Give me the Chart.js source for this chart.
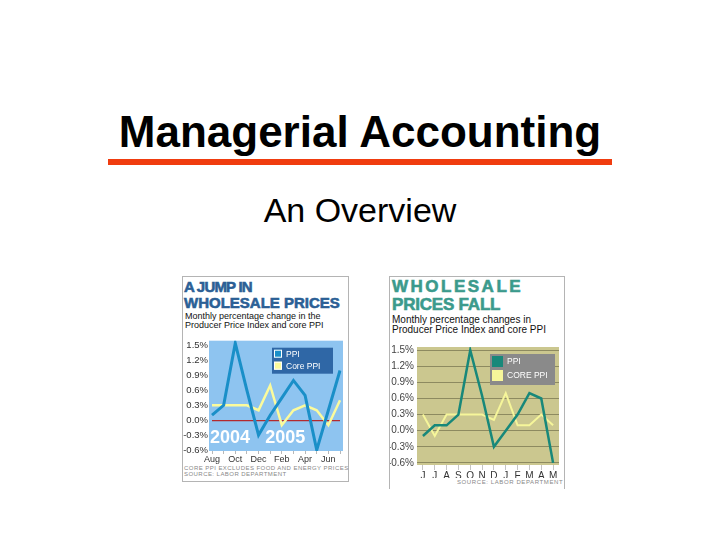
<!DOCTYPE html>
<html>
<head>
<meta charset="utf-8">
<script src="https://cdn.jsdelivr.net/npm/chart.js@4.4.0/dist/chart.umd.min.js"></script>
<style>
body { margin:0; width:720px; height:540px; position:relative; overflow:hidden; background:#fff; font-family:'Liberation Sans', Arial, sans-serif; }
.abs { position:absolute; white-space:nowrap; }
#title { left:0; width:720px; top:106px; text-align:center; font-size:44px; line-height:52px; font-weight:bold; color:#000; }
#rule { left:108px; top:159px; width:504px; height:6px; background:#f03c0f; }
#sub { left:0; width:720px; top:191px; text-align:center; font-size:34px; line-height:38px; color:#000; }
#card1 { left:182px; top:276px; width:165px; height:204px; border:1px solid #b4b4b4; }
#card2 { left:389px; top:276px; width:174px; height:212px; border:1px solid #b4b4b4; border-bottom:none; }
.head { font-weight:bold; }
.h1 { left:184px; font-size:15px; line-height:15px; color:#2b5f95; -webkit-text-stroke:0.6px #2b5f95; }
.h2 { left:392px; font-size:17px; line-height:17px; color:#3b9a8c; -webkit-text-stroke:0.6px #3b9a8c; }
#desc1 { left:185px; top:312px; font-size:9px; line-height:9px; color:#111; }
#desc2 { left:392px; top:315px; font-size:10px; line-height:10px; color:#111; }
.foot { font-size:6px; line-height:6px; color:#888; }
#foot1 { left:184px; top:465px; letter-spacing:0.45px; }
#foot2 { left:457px; top:479px; letter-spacing:0.6px; }
canvas { position:absolute; }
#c1 { left:183px; top:331px; }
#c2 { left:390px; top:338px; }
</style>
</head>
<body>
<div class="abs" id="title">Managerial Accounting</div>
<div class="abs" id="rule"></div>
<div class="abs" id="sub">An Overview</div>

<div class="abs" id="card1"></div>
<div class="abs head h1" style="top:279px; letter-spacing:-0.8px;">A JUMP IN</div>
<div class="abs head h1" style="top:295px; letter-spacing:0px;">WHOLESALE PRICES</div>
<div class="abs" id="desc1">Monthly percentage change in the<br>Producer Price Index and core PPI</div>
<canvas id="c1" width="164" height="134"></canvas>
<div class="abs foot" id="foot1">CORE PPI EXCLUDES FOOD AND ENERGY PRICES<br>SOURCE: LABOR DEPARTMENT</div>

<div class="abs" id="card2"></div>
<div class="abs head h2" style="top:278px; letter-spacing:2.5px;">WHOLESALE</div>
<div class="abs head h2" style="top:296px; letter-spacing:-0.2px;">PRICES FALL</div>
<div class="abs" id="desc2">Monthly percentage changes in<br>Producer Price Index and core PPI</div>
<canvas id="c2" width="173" height="140"></canvas>
<div class="abs foot" id="foot2">SOURCE: LABOR DEPARTMENT</div>

<script>
// left chart: Aug 2004 - Jul 2005
const months1 = ['Aug', 'Sep', 'Oct', 'Nov', 'Dec', 'Jan', 'Feb', 'Mar', 'Apr', 'May', 'Jun', 'Jul'];
const ppi1 = [0.1, 0.3, 1.55, 0.6, -0.3, 0.1, 0.45, 0.8, 0.5, -0.6, 0.2, 1.0];
const core1 = [0.3, 0.3, 0.3, 0.3, 0.2, 0.7, -0.1, 0.2, 0.3, 0.2, -0.1, 0.4];
const ticks1 = [-0.6, -0.3, 0, 0.3, 0.6, 0.9, 1.2, 1.5];
const years1 = ['2004', '2005'];

// right chart: Jun 2004 - May 2005
const months2 = ['J', 'J', 'A', 'S', 'O', 'N', 'D', 'J', 'F', 'M', 'A', 'M'];
const ppi2 = [-0.1, 0.1, 0.1, 0.3, 1.5, 0.65, -0.3, 0.0, 0.3, 0.7, 0.6, -0.6];
const core2 = [0.3, -0.1, 0.3, 0.3, 0.3, 0.3, 0.2, 0.7, 0.1, 0.1, 0.3, 0.1];
const ticks2 = [-0.6, -0.3, 0, 0.3, 0.6, 0.9, 1.2, 1.5];

Chart.defaults.font.family = "'Liberation Sans', Arial, sans-serif";
Chart.defaults.animation = false;

const plotBg = {
    id: 'plotBg',
    beforeDraw(chart, args, opts) {
        const a = chart.chartArea;
        const ctx = chart.ctx;
        ctx.save();
        ctx.fillStyle = opts.color;
        ctx.fillRect(a.left - opts.padX, a.top, a.width + 2 * opts.padX, a.height);
        ctx.restore();
    }
};

const boxLegend = {
    id: 'boxLegend',
    afterDatasetsDraw(chart, args, opts) {
        const a = chart.chartArea;
        const ctx = chart.ctx;
        const x = a.left + opts.x, y = a.top + opts.y;
        ctx.save();
        ctx.fillStyle = opts.bg;
        ctx.fillRect(x, y, opts.w, opts.h);
        ctx.font = opts.font;
        ctx.textBaseline = 'middle';
        chart.data.datasets.forEach((ds, i) => {
            const sy = y + 2 + i * opts.rowH;
            ctx.fillStyle = ds.borderColor;
            ctx.fillRect(x + 2, sy, opts.sw, opts.sw);
            if (opts.swBorder) {
                ctx.strokeStyle = opts.swBorder;
                ctx.lineWidth = 1;
                ctx.strokeRect(x + 2.5, sy + 0.5, opts.sw - 1, opts.sw - 1);
            }
            ctx.fillStyle = '#fff';
            ctx.fillText(ds.label, x + opts.sw + 6, sy + opts.sw / 2 + 0.5);
        });
        ctx.restore();
    }
};

const yearText = {
    id: 'yearText',
    beforeDatasetsDraw(chart, args, opts) {
        if (!opts.labels) return;
        const ctx = chart.ctx;
        const xs = chart.scales.x, ys = chart.scales.y;
        ctx.save();
        ctx.fillStyle = '#ffffff';
        ctx.font = 'bold 18px "Liberation Sans", Arial, sans-serif';
        ctx.textAlign = 'center';
        ctx.textBaseline = 'middle';
        opts.labels.forEach((t, i) => {
            ctx.fillText(t, xs.getPixelForValue(opts.at[i]), ys.getPixelForValue(opts.yv));
        });
        ctx.restore();
    }
};

const fmt = v => v.toFixed(1) + '%';

new Chart(document.getElementById('c1'), {
    type: 'line',
    data: {
        labels: months1,
        datasets: [
            { label: 'PPI', data: ppi1, borderColor: '#1a8fc8', borderWidth: 3, pointRadius: 0, tension: 0 },
            { label: 'Core PPI', data: core1, borderColor: '#fbfb9c', borderWidth: 2.5, pointRadius: 0, tension: 0 }
        ]
    },
    options: {
        responsive: false,
        devicePixelRatio: 1,
        layout: { padding: { top: 2, right: 7, left: 0, bottom: 0 } },
        scales: {
            x: {
                afterFit(scale) { scale.height = 14; },
                grid: { drawOnChartArea: false, drawTicks: true, tickLength: 3, color: '#b8b8b8' },
                border: { display: false },
                ticks: {
                    autoSkip: false, maxRotation: 0, padding: 0,
                    color: '#333', font: { size: 9 },
                    callback: (v, i) => i % 2 === 0 ? months1[i] : ''
                }
            },
            y: {
                min: -0.62, max: 1.6,
                afterFit(scale) { scale.width = 29; },
                afterBuildTicks(scale) { scale.ticks = ticks1.map(v => ({ value: v })); },
                grid: {
                    drawTicks: false, lineWidth: 1.3,
                    color: c => c.tick && c.tick.value === 0 ? '#b42a2e' : 'rgba(0,0,0,0)'
                },
                border: { display: false },
                ticks: { padding: 4, color: '#333', font: { size: 9.5 }, callback: fmt }
            }
        },
        plugins: {
            legend: { display: false },
            tooltip: { enabled: false },
            plotBg: { color: '#8ec4f0', padX: 3 },
            boxLegend: { x: 60, y: 7, w: 61, h: 26, bg: '#2f67a6', font: '8.5px "Liberation Sans", Arial', rowH: 12, sw: 8, swBorder: '#ffffff' },
            yearText: { labels: years1, at: [1.55, 6.3], yv: -0.35 }
        }
    },
    plugins: [plotBg, yearText, boxLegend]
});

new Chart(document.getElementById('c2'), {
    type: 'line',
    data: {
        labels: months2,
        datasets: [
            { label: 'PPI', data: ppi2, borderColor: '#18887a', borderWidth: 2.5, pointRadius: 0, tension: 0 },
            { label: 'CORE PPI', data: core2, borderColor: '#f6f69a', borderWidth: 2, pointRadius: 0, tension: 0 }
        ]
    },
    options: {
        responsive: false,
        devicePixelRatio: 1,
        layout: { padding: { top: 2, right: 4, left: 0, bottom: 0 } },
        scales: {
            x: {
                offset: true,
                afterFit(scale) { scale.height = 13; },
                grid: { drawOnChartArea: false, drawTicks: true, tickLength: 5, color: '#c4c4c4' },
                border: { display: false },
                ticks: { autoSkip: false, maxRotation: 0, padding: 0, color: '#333', font: { size: 10 } }
            },
            y: {
                min: -0.64, max: 1.56,
                afterFit(scale) { scale.width = 27; },
                afterBuildTicks(scale) { scale.ticks = ticks2.map(v => ({ value: v })); },
                grid: { drawTicks: false, color: '#8d8a60', lineWidth: 1 },
                border: { display: false },
                ticks: { padding: 3, color: '#444', font: { size: 10 }, callback: fmt }
            }
        },
        plugins: {
            legend: { display: false },
            tooltip: { enabled: false },
            plotBg: { color: '#cbc78f', padX: 0 },
            boxLegend: { x: 73, y: 7, w: 65, h: 31, bg: '#8a8a8a', font: '8.5px "Liberation Sans", Arial', rowH: 14, sw: 11 }
        }
    },
    plugins: [plotBg, boxLegend]
});
</script>
</body>
</html>
